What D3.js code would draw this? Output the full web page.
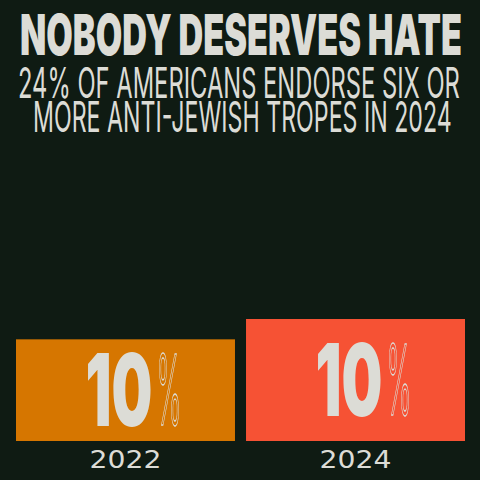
<!DOCTYPE html>
<html><head><meta charset="utf-8">
<script src="https://cdn.jsdelivr.net/npm/d3@7"></script>
<style>html,body{margin:0;padding:0;background:#0f1b13;}svg{display:block;}</style>
</head><body>
<script>
const title = "NOBODY DESERVES HATE";
const subtitleLines = ["24% OF AMERICANS ENDORSE SIX OR", "MORE ANTI-JEWISH TROPES IN 2024"];
const years = ["2022", "2024"];
const values = [10, 12];
const valueLabels = ["10", "10"];
const barColors = ["#d67600", "#f65234"];

const W = 480, H = 480;
const txt = "#dcdcd6";
const svg = d3.select("body").append("svg").attr("width", W).attr("height", H);
svg.append("rect").attr("width", W).attr("height", H).attr("fill", "#0f1b13");

// place a text so that its left edge is at x0 and its width equals w, by horizontal scaling
function fitText(sel, x0, yb, w) {
  sel.attr("x", 0).attr("y", 0).attr("text-anchor", "start");
  const nat = sel.node().getComputedTextLength();
  sel.attr("transform", `translate(${x0},${yb}) scale(${w / nat},1)`);
  return sel;
}

fitText(svg.append("text")
  .attr("font-family", "Inter").attr("font-weight", 900).attr("font-size", 56)
  .attr("fill", txt).text(title), 20, 55, 442);

const subX = [18, 33], subW = [442, 419];
subtitleLines.forEach((s, i) => {
  fitText(svg.append("text").attr("class", "sub")
    .attr("font-family", "Inter").attr("font-weight", 400).attr("font-size", 42)
    .attr("fill", txt).text(s), subX[i], 98 + i * 34, subW[i]);
});

const x = d3.scaleBand().domain(years).range([16, 465]).paddingInner(0.048).paddingOuter(0);
const y = d3.scaleLinear().domain([0, 12]).range([441, 319]);

years.forEach((yr, i) => {
  const g = svg.append("g").attr("class", "bar");
  g.append("rect")
    .attr("x", x(yr)).attr("width", x.bandwidth())
    .attr("y", y(values[i])).attr("height", y(0) - y(values[i]))
    .attr("fill", barColors[i]);
  const cx = x(yr) + x.bandwidth() / 2;
  const cy = (y(values[i]) + y(0)) / 2;
  fitText(g.append("text")
    .attr("font-family", "Inter").attr("font-weight", 900).attr("font-size", 100)
    .attr("fill", txt).text(valueLabels[i]), cx - 40, cy + 36, 67);
  fitText(g.append("text")
    .attr("font-family", "Inter").attr("font-weight", 300).attr("font-size", 98)
    .attr("fill", "none").attr("stroke", txt).attr("stroke-width", 1.6).text("%"), cx + 31, cy + 35, 25);
  fitText(g.append("text")
    .attr("font-family", "DejaVu Sans").attr("font-weight", 400).attr("font-size", 25)
    .attr("fill", txt).text(yr), cx - 36, 468, 72);
});
</script>
</body></html>
